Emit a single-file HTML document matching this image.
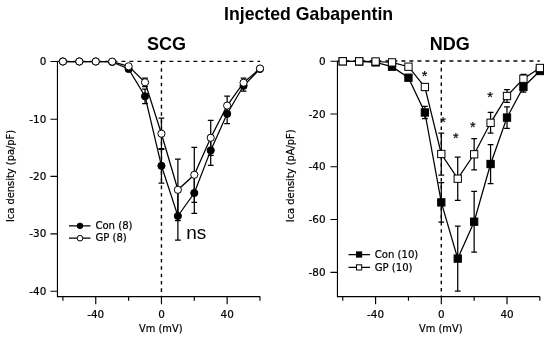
<!DOCTYPE html>
<html><head><meta charset="utf-8"><title>Injected Gabapentin</title>
<style>html,body{margin:0;padding:0;background:#fff}svg{display:block}</style></head>
<body>
<svg width="550" height="338" viewBox="0 0 550 338">
<rect width="550" height="338" fill="#fff"/>
<style>.ax{font-family:'DejaVu Sans','Liberation Sans',sans-serif;font-size:9.9px;fill:#000;stroke:#000;stroke-width:0.2px}.tk{font-size:10.4px}.lg{font-size:10.1px}.h{font-family:'Liberation Sans',sans-serif;font-weight:bold;fill:#000}</style>
<path fill="none" stroke="#000" stroke-width="1.15" d="M57.45 61.5V296.6H260M50.45 61.5H57.45M50.45 119.2H57.45M50.45 176.4H57.45M50.45 233.8H57.45M50.45 291.2H57.45M62.9 296.6V300.8M95.75 296.6V304.3M128.6 296.6V300.8M161.45 296.6V304.3M194.3 296.6V300.8M227.15 296.6V304.3M260 296.6V300.8"/>
<text x="46.25" y="65.1" text-anchor="end" class="ax tk">0</text>
<text x="46.25" y="122.8" text-anchor="end" class="ax tk">-10</text>
<text x="46.25" y="180" text-anchor="end" class="ax tk">-20</text>
<text x="46.25" y="237.4" text-anchor="end" class="ax tk">-30</text>
<text x="46.25" y="294.8" text-anchor="end" class="ax tk">-40</text>
<text x="95.75" y="318" text-anchor="middle" class="ax tk">-40</text>
<text x="161.45" y="318" text-anchor="middle" class="ax tk">0</text>
<text x="227.15" y="318" text-anchor="middle" class="ax tk">40</text>
<path fill="none" stroke="#000" stroke-width="1.4" stroke-dasharray="3.9 4.1" d="M57.45 61.35H260"/>
<path fill="none" stroke="#000" stroke-width="1.4" stroke-dasharray="3.55 3.79" d="M161.45 60.8V296.6"/>
<path fill="none" stroke="#000" stroke-width="1.15" d="M337.45 61.2V296.6H539.7M330.45 61.2H337.45M330.45 114H337.45M330.45 166.7H337.45M330.45 219.5H337.45M330.45 272.3H337.45M342.75 296.6V300.8M375.6 296.6V304.3M408.45 296.6V300.8M441.3 296.6V304.3M474.15 296.6V300.8M507 296.6V304.3M539.85 296.6V300.8"/>
<text x="325.55" y="64.8" text-anchor="end" class="ax tk">0</text>
<text x="325.55" y="117.6" text-anchor="end" class="ax tk">-20</text>
<text x="325.55" y="170.3" text-anchor="end" class="ax tk">-40</text>
<text x="325.55" y="223.1" text-anchor="end" class="ax tk">-60</text>
<text x="325.55" y="275.9" text-anchor="end" class="ax tk">-80</text>
<text x="375.6" y="318" text-anchor="middle" class="ax tk">-40</text>
<text x="441.3" y="318" text-anchor="middle" class="ax tk">0</text>
<text x="507" y="318" text-anchor="middle" class="ax tk">40</text>
<path fill="none" stroke="#000" stroke-width="1.4" stroke-dasharray="3.9 4.1" d="M337.45 61.05H539.7"/>
<path fill="none" stroke="#000" stroke-width="1.4" stroke-dasharray="3.55 3.79" d="M441.3 60.5V296.6"/>
<path fill="none" stroke="#000" stroke-width="1.25" d="M145.02 89.1V103.5M142.12 89.1H147.92M142.12 103.5H147.92M161.45 148.5V183.1M158.55 148.5H164.35M158.55 183.1H164.35M177.88 192V240M174.97 192H180.78M174.97 240H180.78M194.3 172.6V213.4M191.4 172.6H197.2M191.4 213.4H197.2M210.72 135.4V165.4M207.82 135.4H213.62M207.82 165.4H213.62M227.15 104.1V123.5M224.25 104.1H230.05M224.25 123.5H230.05M243.57 80.6V91M240.67 80.6H246.47M240.67 91H246.47"/>
<polyline fill="none" stroke="#000" stroke-width="1.25" points="62.9,61.5 79.32,61.5 95.75,61.5 112.17,62 128.6,69 145.02,96.3 161.45,165.8 177.88,216 194.3,193 210.72,150.4 227.15,113.8 243.57,85.8 260,69"/>
<circle cx="62.9" cy="61.5" r="3.6" fill="#000" stroke="#000" stroke-width="1"/><circle cx="79.32" cy="61.5" r="3.6" fill="#000" stroke="#000" stroke-width="1"/><circle cx="95.75" cy="61.5" r="3.6" fill="#000" stroke="#000" stroke-width="1"/><circle cx="112.17" cy="62" r="3.6" fill="#000" stroke="#000" stroke-width="1"/><circle cx="128.6" cy="69" r="3.6" fill="#000" stroke="#000" stroke-width="1"/><circle cx="145.02" cy="96.3" r="3.6" fill="#000" stroke="#000" stroke-width="1"/><circle cx="161.45" cy="165.8" r="3.6" fill="#000" stroke="#000" stroke-width="1"/><circle cx="177.88" cy="216" r="3.6" fill="#000" stroke="#000" stroke-width="1"/><circle cx="194.3" cy="193" r="3.6" fill="#000" stroke="#000" stroke-width="1"/><circle cx="210.72" cy="150.4" r="3.6" fill="#000" stroke="#000" stroke-width="1"/><circle cx="227.15" cy="113.8" r="3.6" fill="#000" stroke="#000" stroke-width="1"/><circle cx="243.57" cy="85.8" r="3.6" fill="#000" stroke="#000" stroke-width="1"/><circle cx="260" cy="69" r="3.6" fill="#000" stroke="#000" stroke-width="1"/>
<path fill="none" stroke="#000" stroke-width="1.25" d="M145.02 78V86.6M142.12 78H147.92M142.12 86.6H147.92M161.45 118V149.4M158.55 118H164.35M158.55 149.4H164.35M177.88 159V220.6M174.97 159H180.78M174.97 220.6H180.78M194.3 147.3V202.3M191.4 147.3H197.2M191.4 202.3H197.2M210.72 120.3V155.3M207.82 120.3H213.62M207.82 155.3H213.62M227.15 96V115.2M224.25 96H230.05M224.25 115.2H230.05M243.57 78V87.4M240.67 78H246.47M240.67 87.4H246.47"/>
<polyline fill="none" stroke="#000" stroke-width="1.25" points="62.9,61.5 79.32,61.5 95.75,61.5 112.17,61.6 128.6,66.3 145.02,82.3 161.45,133.7 177.88,189.8 194.3,174.8 210.72,137.8 227.15,105.6 243.57,82.7 260,68.5"/>
<circle cx="62.9" cy="61.5" r="3.6" fill="#fff" stroke="#000" stroke-width="1"/><circle cx="79.32" cy="61.5" r="3.6" fill="#fff" stroke="#000" stroke-width="1"/><circle cx="95.75" cy="61.5" r="3.6" fill="#fff" stroke="#000" stroke-width="1"/><circle cx="112.17" cy="61.6" r="3.6" fill="#fff" stroke="#000" stroke-width="1"/><circle cx="128.6" cy="66.3" r="3.6" fill="#fff" stroke="#000" stroke-width="1"/><circle cx="145.02" cy="82.3" r="3.6" fill="#fff" stroke="#000" stroke-width="1"/><circle cx="161.45" cy="133.7" r="3.6" fill="#fff" stroke="#000" stroke-width="1"/><circle cx="177.88" cy="189.8" r="3.6" fill="#fff" stroke="#000" stroke-width="1"/><circle cx="194.3" cy="174.8" r="3.6" fill="#fff" stroke="#000" stroke-width="1"/><circle cx="210.72" cy="137.8" r="3.6" fill="#fff" stroke="#000" stroke-width="1"/><circle cx="227.15" cy="105.6" r="3.6" fill="#fff" stroke="#000" stroke-width="1"/><circle cx="243.57" cy="82.7" r="3.6" fill="#fff" stroke="#000" stroke-width="1"/><circle cx="260" cy="68.5" r="3.6" fill="#fff" stroke="#000" stroke-width="1"/>
<path fill="none" stroke="#000" stroke-width="1.25" d="M424.88 106.4V118.6M421.98 106.4H427.77M421.98 118.6H427.77M441.3 182.6V222.2M438.4 182.6H444.2M438.4 222.2H444.2M457.73 226.2V291M454.83 226.2H460.62M454.83 291H460.62M474.15 191.4V252M471.25 191.4H477.05M471.25 252H477.05M490.58 144.5V183.5M487.68 144.5H493.48M487.68 183.5H493.48M507 106.8V128.4M504.1 106.8H509.9M504.1 128.4H509.9M523.42 82V92M520.52 82H526.32M520.52 92H526.32M539.85 69V73M536.95 69H542.75M536.95 73H542.75"/>
<polyline fill="none" stroke="#000" stroke-width="1.25" points="342.75,61.3 359.18,61.5 375.6,62.4 392.02,66.7 408.45,77.7 424.88,112.5 441.3,202.4 457.73,258.6 474.15,221.7 490.58,164 507,117.6 523.42,87 539.85,71"/>
<rect x="339.1" y="57.65" width="7.3" height="7.3" fill="#000" stroke="#000" stroke-width="1"/><rect x="355.53" y="57.85" width="7.3" height="7.3" fill="#000" stroke="#000" stroke-width="1"/><rect x="371.95" y="58.75" width="7.3" height="7.3" fill="#000" stroke="#000" stroke-width="1"/><rect x="388.38" y="63.05" width="7.3" height="7.3" fill="#000" stroke="#000" stroke-width="1"/><rect x="404.8" y="74.05" width="7.3" height="7.3" fill="#000" stroke="#000" stroke-width="1"/><rect x="421.23" y="108.85" width="7.3" height="7.3" fill="#000" stroke="#000" stroke-width="1"/><rect x="437.65" y="198.75" width="7.3" height="7.3" fill="#000" stroke="#000" stroke-width="1"/><rect x="454.08" y="254.95" width="7.3" height="7.3" fill="#000" stroke="#000" stroke-width="1"/><rect x="470.5" y="218.05" width="7.3" height="7.3" fill="#000" stroke="#000" stroke-width="1"/><rect x="486.93" y="160.35" width="7.3" height="7.3" fill="#000" stroke="#000" stroke-width="1"/><rect x="503.35" y="113.95" width="7.3" height="7.3" fill="#000" stroke="#000" stroke-width="1"/><rect x="519.77" y="83.35" width="7.3" height="7.3" fill="#000" stroke="#000" stroke-width="1"/><rect x="536.2" y="67.35" width="7.3" height="7.3" fill="#000" stroke="#000" stroke-width="1"/>
<path fill="none" stroke="#000" stroke-width="1.25" d="M424.88 84V90M421.98 84H427.77M421.98 90H427.77M441.3 133V175M438.4 133H444.2M438.4 175H444.2M457.73 157V200.4M454.83 157H460.62M454.83 200.4H460.62M474.15 138.7V169.9M471.25 138.7H477.05M471.25 169.9H477.05M490.58 112.4V133.2M487.68 112.4H493.48M487.68 133.2H493.48M507 89.7V102.3M504.1 89.7H509.9M504.1 102.3H509.9M523.42 74.4V83M520.52 74.4H526.32M520.52 83H526.32"/>
<polyline fill="none" stroke="#000" stroke-width="1.25" points="342.75,61.3 359.18,61.3 375.6,61.5 392.02,62.4 408.45,66.7 424.88,87 441.3,154 457.73,178.7 474.15,154.3 490.58,122.8 507,96 523.42,78.7 539.85,68"/>
<rect x="339.1" y="57.65" width="7.3" height="7.3" fill="#fff" stroke="#000" stroke-width="1"/><rect x="355.53" y="57.65" width="7.3" height="7.3" fill="#fff" stroke="#000" stroke-width="1"/><rect x="371.95" y="57.85" width="7.3" height="7.3" fill="#fff" stroke="#000" stroke-width="1"/><rect x="388.38" y="58.75" width="7.3" height="7.3" fill="#fff" stroke="#000" stroke-width="1"/><rect x="404.8" y="63.05" width="7.3" height="7.3" fill="#fff" stroke="#000" stroke-width="1"/><rect x="421.23" y="83.35" width="7.3" height="7.3" fill="#fff" stroke="#000" stroke-width="1"/><rect x="437.65" y="150.35" width="7.3" height="7.3" fill="#fff" stroke="#000" stroke-width="1"/><rect x="454.08" y="175.05" width="7.3" height="7.3" fill="#fff" stroke="#000" stroke-width="1"/><rect x="470.5" y="150.65" width="7.3" height="7.3" fill="#fff" stroke="#000" stroke-width="1"/><rect x="486.93" y="119.15" width="7.3" height="7.3" fill="#fff" stroke="#000" stroke-width="1"/><rect x="503.35" y="92.35" width="7.3" height="7.3" fill="#fff" stroke="#000" stroke-width="1"/><rect x="519.77" y="75.05" width="7.3" height="7.3" fill="#fff" stroke="#000" stroke-width="1"/><rect x="536.2" y="64.35" width="7.3" height="7.3" fill="#fff" stroke="#000" stroke-width="1"/>
<path stroke="#000" stroke-width="1.25" d="M69 225.8H90.5M69 238.2H90.5"/>
<circle cx="80" cy="225.8" r="2.8" fill="#000" stroke="#000"/><circle cx="80" cy="238.2" r="2.8" fill="#fff" stroke="#000"/>
<text x="95.4" y="228.9" class="ax lg">Con (8)</text><text x="95.4" y="241.2" class="ax lg">GP (8)</text>
<path stroke="#000" stroke-width="1.25" d="M348.5 254.5H370M348.5 267.4H370"/>
<rect x="356.5" y="251.9" width="5.2" height="5.2" fill="#000" stroke="#000"/><rect x="356.5" y="264.8" width="5.2" height="5.2" fill="#fff" stroke="#000"/>
<text x="374.7" y="257.75" class="ax lg">Con (10)</text><text x="374.7" y="270.55" class="ax lg">GP (10)</text>
<text x="160.8" y="331.5" text-anchor="middle" class="ax">Vm (mV)</text>
<text x="440.8" y="331.5" text-anchor="middle" class="ax">Vm (mV)</text>
<text transform="translate(14.2 176) rotate(-90)" text-anchor="middle" class="ax">Ica density (pa/pF)</text>
<text transform="translate(294.1 175.8) rotate(-90)" text-anchor="middle" class="ax">Ica density (pA/pF)</text>
<text x="308.6" y="19.7" text-anchor="middle" class="h" font-size="17.7">Injected Gabapentin</text>
<text x="166.5" y="49.9" text-anchor="middle" class="h" font-size="18">SCG</text>
<text x="449.7" y="49.9" text-anchor="middle" class="h" font-size="18">NDG</text>
<text x="186.3" y="238.9" font-family="'Liberation Sans',sans-serif" font-size="19" fill="#000">ns</text>
<text x="424.5" y="80.7" text-anchor="middle" font-family="'Liberation Sans',sans-serif" font-size="14.5" fill="#000" stroke="#000" stroke-width="0.2">*</text>
<text x="443" y="126.7" text-anchor="middle" font-family="'Liberation Sans',sans-serif" font-size="14.5" fill="#000" stroke="#000" stroke-width="0.2">*</text>
<text x="455.8" y="142.5" text-anchor="middle" font-family="'Liberation Sans',sans-serif" font-size="14.5" fill="#000" stroke="#000" stroke-width="0.2">*</text>
<text x="472.8" y="132.3" text-anchor="middle" font-family="'Liberation Sans',sans-serif" font-size="14.5" fill="#000" stroke="#000" stroke-width="0.2">*</text>
<text x="490" y="102.4" text-anchor="middle" font-family="'Liberation Sans',sans-serif" font-size="14.5" fill="#000" stroke="#000" stroke-width="0.2">*</text>
</svg>
</body></html>
